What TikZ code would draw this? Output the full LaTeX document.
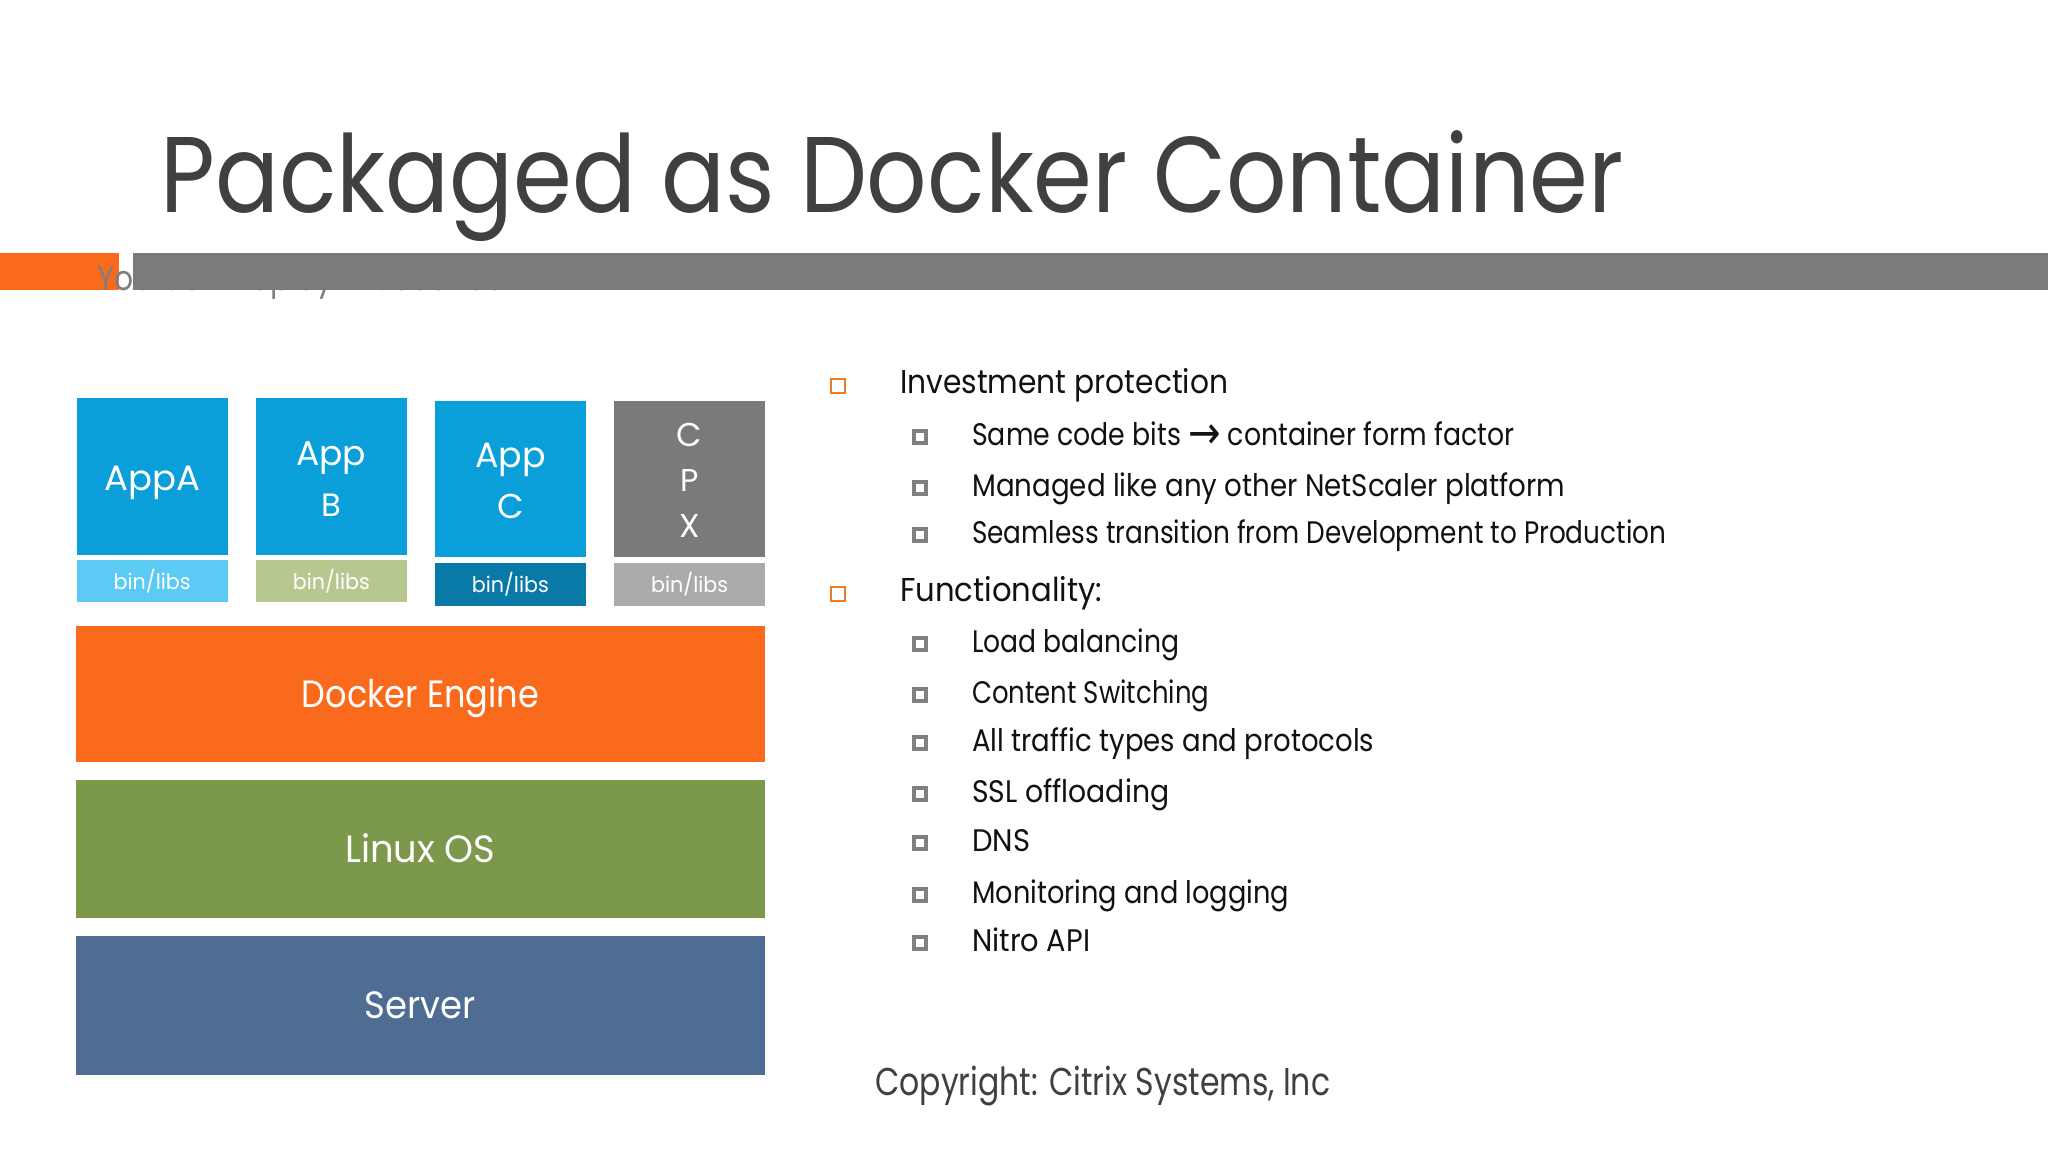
\documentclass[tikz,border=0pt]{standalone}
\usepackage{graphicx}
\usepackage{fontspec}
\setmainfont{Poppins}
\newfontfamily\symfnt{DejaVu Sans}
\definecolor{orangeC}{HTML}{F96A1D}
\definecolor{barGray}{HTML}{7B7B7D}
\definecolor{appBlue}{HTML}{0B9FD9}
\definecolor{binA}{HTML}{5BCBF5}
\definecolor{binB}{HTML}{B6C790}
\definecolor{binC}{HTML}{0979A8}
\definecolor{cpxGray}{HTML}{7A7A7C}
\definecolor{binD}{HTML}{ABABAD}
\definecolor{linuxG}{HTML}{7C984B}
\definecolor{serverB}{HTML}{4F6C93}
\definecolor{titleC}{HTML}{404040}
\definecolor{subC}{HTML}{7F7F7F}
\definecolor{bodyC}{HTML}{111111}
\definecolor{bulOr}{HTML}{F07C2A}
\definecolor{bulGr}{HTML}{808080}
\newlength\capht
\newcommand\tx[3]{\settoheight{\capht}{H}\resizebox{#1pt}{#2pt}{\raisebox{0pt}[\capht][0pt]{#3}}}
\newcommand\txh[2]{\settoheight{\capht}{H}\resizebox{!}{#1pt}{\raisebox{0pt}[\capht][0pt]{#2}}}
\tikzset{
  blk/.style={draw=none, inner sep=0pt, outer sep=0pt, rectangle},
  lbl/.style={inner sep=0pt, outer sep=0pt, anchor=base, text=white},
  lone/.style={inner sep=0pt, anchor=base west, text=bodyC},
  bulone/.style={draw=bulOr, line width=2pt, fill=white, minimum size=14pt, inner sep=0pt, rectangle},
  bultwo/.style={draw=bulGr, line width=4pt, fill=white, minimum size=12pt, inner sep=0pt, rectangle}
}
\begin{document}
\begin{tikzpicture}[x=1pt,y=-1pt]
\useasboundingbox[fill=white] (0,0) rectangle (2048,1152);
% title
\node[inner sep=0pt, anchor=base west, text=titleC] (title) at (160,212) {\tx{1463}{75}{Packaged as Docker Container}};
% bars and subtitle
\fill[orangeC] (0,252.7) rectangle (119.3,290);
\node[inner sep=0pt, anchor=base west, text=subC] (subtitle) at (97,290) {\tx{406}{24}{You Can Deploy in Seconds}};
\fill[barGray] (133.3,252.7) rectangle (2048,290);
% app boxes
\node[blk, fill=appBlue, minimum width=151pt, minimum height=156.4pt] (appA) at (152.2,476.5) {};
\node[blk, fill=binA, minimum width=151pt, minimum height=42.3pt] (binlA) at (152.2,581.15) {};
\node[blk, fill=appBlue, minimum width=150.7pt, minimum height=156.4pt] (appB) at (331.35,476.5) {};
\node[blk, fill=binB, minimum width=150.7pt, minimum height=42.3pt] (binlB) at (331.35,581.15) {};
\node[blk, fill=appBlue, minimum width=150.7pt, minimum height=156.3pt] (appC) at (510.35,478.85) {};
\node[blk, fill=binC, minimum width=150.7pt, minimum height=43pt] (binlC) at (510.35,584.2) {};
\node[blk, fill=cpxGray, minimum width=150.7pt, minimum height=156.3pt] (cpx) at (689.65,478.85) {};
\node[blk, fill=binD, minimum width=150.7pt, minimum height=43pt] (binlD) at (689.65,584.2) {};
% labels in app boxes
\node[lbl] (tA) at (152.2,490.7) {\tx{96}{24.5}{AppA}};
\node[lbl] (tB1) at (331.35,465.7) {\tx{70}{24}{App}};
\node[lbl] (tB2) at (331.35,516) {\txh{22.5}{B}};
\node[lbl] (tC1) at (510.35,467.3) {\tx{70.5}{24.5}{App}};
\node[lbl] (tC2) at (510.35,518) {\txh{24}{C}};
\node[lbl] (tX1) at (689.65,446) {\txh{23}{C}};
\node[lbl] (tX2) at (689.65,491.7) {\txh{22}{P}};
\node[lbl] (tX3) at (689.65,537.3) {\txh{23}{X}};
\node[lbl] (bA) at (152.2,589.3) {\tx{77}{15}{bin/libs}};
\node[lbl] (bB) at (331.35,589.3) {\tx{77}{15}{bin/libs}};
\node[lbl] (bC) at (510.35,592.3) {\tx{77}{15}{bin/libs}};
\node[lbl] (bD) at (689.65,592.3) {\tx{77}{15}{bin/libs}};
% stack
\node[blk, fill=orangeC, minimum width=689pt, minimum height=136.5pt] (docker) at (420.5,693.75) {};
\node[blk, fill=linuxG, minimum width=689pt, minimum height=138.8pt] (linux) at (420.5,848.9) {};
\node[blk, fill=serverB, minimum width=689pt, minimum height=139pt] (server) at (420.5,1005.2) {};
\node[lbl] (tDocker) at (420.5,707.5) {\tx{237}{26.5}{Docker Engine}};
\node[lbl] (tLinux) at (420.5,862.2) {\tx{150}{26.5}{Linux OS}};
\node[lbl] (tServer) at (420.5,1018.5) {\tx{111}{26.5}{Server}};
% bullets level 1
\node[bulone] (b1) at (837.5,385.5) {};
\node[lone] (l1) at (900,393) {\tx{328}{23}{Investment protection}};
\node[bulone] (b2) at (837.5,593.5) {};
\node[lone] (l2) at (900,601) {\tx{202}{23}{Functionality:}};
% bullets level 2
\node[bultwo] (s1) at (919.7,436.5) {};
\node[lone] (m1) at (972,445) {\tx{542}{21.7}{Same code bits \raisebox{-1pt}{\scalebox{1.45}{\symfnt →}} container form factor}};
\node[bultwo] (s2) at (919.7,487.5) {};
\node[lone] (m2) at (972,496) {\tx{593}{21.7}{Managed like any other NetScaler platform}};
\node[bultwo] (s3) at (919.7,534.5) {};
\node[lone] (m3) at (972,543) {\tx{694}{21.7}{Seamless transition from Development to Production}};
\node[bultwo] (s4) at (919.7,643.5) {};
\node[lone] (m4) at (972,652) {\tx{207}{21.7}{Load balancing}};
\node[bultwo] (s5) at (919.7,694.5) {};
\node[lone] (m5) at (972,703) {\tx{237}{21.7}{Content Switching}};
\node[bultwo] (s6) at (919.7,742.5) {};
\node[lone] (m6) at (972,751) {\tx{402}{21.7}{All traffic types and protocols}};
\node[bultwo] (s7) at (919.7,793.5) {};
\node[lone] (m7) at (972,802) {\tx{197}{21.7}{SSL offloading}};
\node[bultwo] (s8) at (919.7,842.5) {};
\node[lone] (m8) at (972,851) {\tx{58}{21.7}{DNS}};
\node[bultwo] (s9) at (919.7,894.5) {};
\node[lone] (m9) at (972,903) {\tx{317}{21.7}{Monitoring and logging}};
\node[bultwo] (s10) at (919.7,942.5) {};
\node[lone] (m10) at (972,951) {\tx{118}{21.7}{Nitro API}};
% copyright
\node[inner sep=0pt, anchor=base west, text=titleC] (copy) at (875,1095) {\tx{455}{27}{Copyright: Citrix Systems, Inc}};
\end{tikzpicture}
\end{document}
